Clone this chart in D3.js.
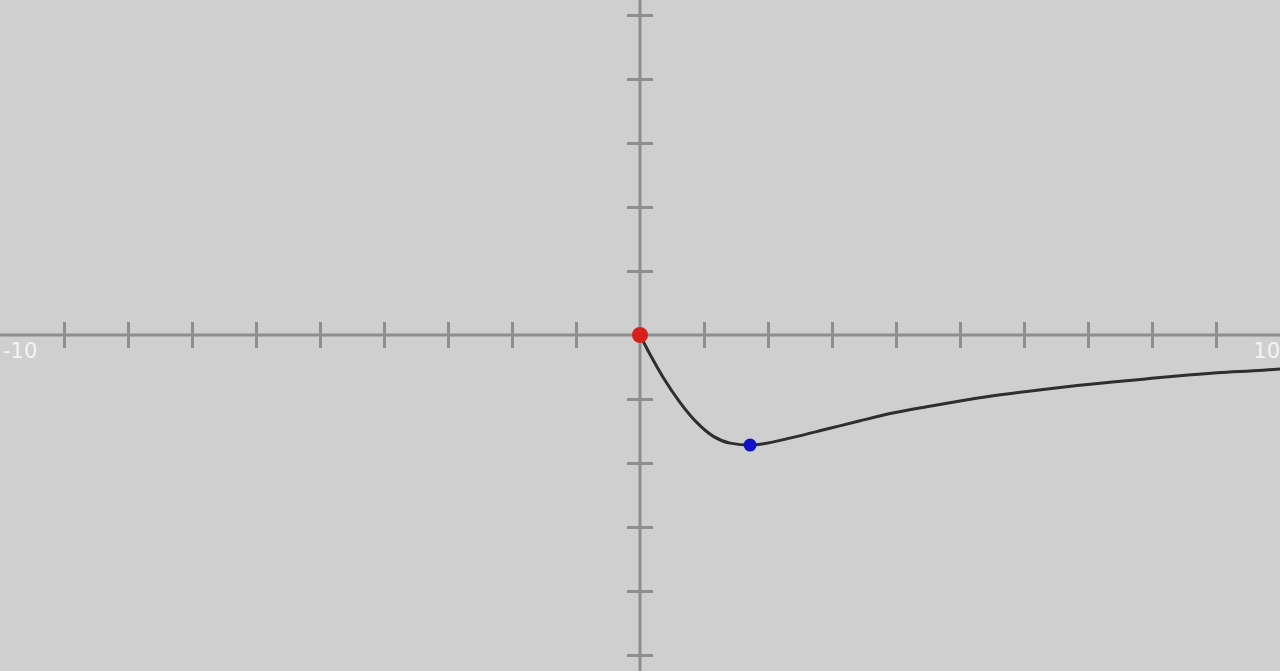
<!DOCTYPE html>
<html>
<head>
<meta charset="utf-8">
<script src="https://cdn.jsdelivr.net/npm/d3@7"></script>
<style>
  html, body { margin: 0; padding: 0; background: #cfcfcf; overflow: hidden; }
  svg { display: block; }
</style>
</head>
<body>
<script>
// curve (x, y in graph units)
const curveX = [0, 0.16, 0.36, 0.63, 0.89, 1.14, 1.41, 1.72, 2.39, 2.92, 3.44, 3.95, 4.48, 5.0, 5.52, 6.3, 6.83, 7.34, 7.86, 8.39, 9.02, 9.73, 10];
const curveY = [0, -0.31, -0.66, -1.06, -1.37, -1.58, -1.69, -1.72, -1.6, -1.47, -1.34, -1.22, -1.12, -1.03, -0.95, -0.85, -0.79, -0.74, -0.69, -0.64, -0.59, -0.55, -0.53];
const startPoint = [0, 0];
const minPoint = [1.72, -1.72];
const xTicks = [-9, -8, -7, -6, -5, -4, -3, -2, -1, 1, 2, 3, 4, 5, 6, 7, 8, 9];
const yTicks = [-5, -4, -3, -2, -1, 1, 2, 3, 4, 5];
const xLabels = [-10, 10];

const width = 1280, height = 671;

const svg = d3.select("body").append("svg")
  .attr("width", width)
  .attr("height", height);

svg.append("rect")
  .attr("width", width)
  .attr("height", height)
  .attr("fill", "#cfcfcf");

const xScale = d3.scaleLinear().domain([-10, 10]).range([0, width]);
const yScale = d3.scaleLinear().domain([-5.25, 5.234]).range([height, 0]);

const axisColor = "#8e8e8e";

// x axis through y = 0
const xAxis = svg.append("g")
  .attr("transform", "translate(0," + yScale(0) + ")")
  .call(d3.axisBottom(xScale).tickValues(xTicks).tickSize(13).tickFormat(""));
xAxis.select(".domain").attr("stroke", axisColor).attr("stroke-width", 3).attr("d", "M0,0H" + width);
xAxis.selectAll(".tick line").attr("stroke", axisColor).attr("stroke-width", 3).attr("y1", -13);

// y axis through x = 0
const yAxis = svg.append("g")
  .attr("transform", "translate(" + xScale(0) + ",0)")
  .call(d3.axisLeft(yScale).tickValues(yTicks).tickSize(13).tickFormat(""));
yAxis.select(".domain").attr("stroke", axisColor).attr("stroke-width", 3).attr("d", "M0,0V" + height);
yAxis.selectAll(".tick line").attr("stroke", axisColor).attr("stroke-width", 3).attr("x1", 13);

// end labels
svg.selectAll(".xlabel")
  .data(xLabels)
  .enter().append("text")
  .attr("class", "xlabel")
  .attr("x", d => d < 0 ? xScale(d) + 3 : xScale(d))
  .attr("y", yScale(0) + 23)
  .attr("text-anchor", d => d < 0 ? "start" : "end")
  .attr("fill", "#f4f4f4")
  .style("font-family", "DejaVu Sans, sans-serif")
  .style("font-size", "21px")
  .text(d => d);

// curve
const pts = curveX.map((x, i) => [x, curveY[i]]);
const line = d3.line()
  .x(d => xScale(d[0]))
  .y(d => yScale(d[1]))
  .curve(d3.curveMonotoneX);

svg.append("path")
  .datum(pts)
  .attr("d", line)
  .attr("fill", "none")
  .attr("stroke", "#2e2e2e")
  .attr("stroke-width", 3);

// points
svg.append("circle")
  .attr("cx", xScale(startPoint[0]))
  .attr("cy", yScale(startPoint[1]))
  .attr("r", 8)
  .attr("fill", "#d8201c");

svg.append("circle")
  .attr("cx", xScale(minPoint[0]))
  .attr("cy", yScale(minPoint[1]))
  .attr("r", 6.5)
  .attr("fill", "#1212c8");
</script>
</body>
</html>
